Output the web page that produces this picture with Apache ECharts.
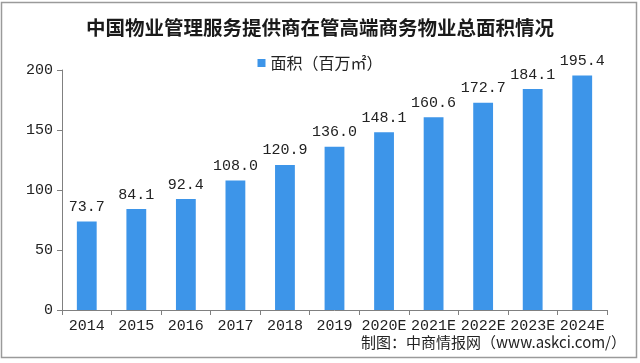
<!DOCTYPE html>
<html><head><meta charset="utf-8">
<script src="https://cdn.jsdelivr.net/npm/echarts@6/dist/echarts.min.js"></script>
<style>html,body{margin:0;padding:0;background:#fff}#c{width:640px;height:363px}</style>
</head><body><div id="c"></div>
<script>
var categories = ['2014','2015','2016','2017','2018','2019','2020E','2021E','2022E','2023E','2024E'];
var areaValues = [73.7, 84.1, 92.4, 108.0, 120.9, 136.0, 148.1, 160.6, 172.7, 184.1, 195.4];
var seriesName = '面积（百万㎡）';
var titleText = '中国物业管理服务提供商在管高端商务物业总面积情况';
var sourceText = '制图：中商情报网（www.askci.com/）';

var chart = echarts.init(document.getElementById('c'), null, {renderer:'canvas'});
var mono = '"Liberation Mono","DejaVu Sans Mono",monospace';
chart.setOption({
  backgroundColor:'#fff',
  animation:false,
  title:{text:titleText,left:'center',top:13,
    textStyle:{fontFamily:'"Noto Sans CJK SC"',fontSize:19.5,fontWeight:'bold',color:'#1a1a1a'}},
  legend:{data:[seriesName],top:50,left:'center',itemWidth:8,itemHeight:8,itemGap:4,
    icon:'rect',
    textStyle:{fontFamily:'"Noto Sans CJK SC"',fontSize:16,color:'#222'}},
  grid:{left:62,right:33,top:70,bottom:53},
  xAxis:{type:'category',data:categories,
    axisLine:{lineStyle:{color:'#808080'}},
    axisTick:{show:true,length:5,lineStyle:{color:'#808080'}},
    axisLabel:{fontFamily:mono,fontSize:15,color:'#222',margin:9,interval:0}},
  yAxis:{type:'value',min:0,max:200,interval:50,
    axisLine:{show:true,lineStyle:{color:'#808080'}},
    axisTick:{show:true,length:5,lineStyle:{color:'#808080'}},
    splitLine:{show:false},
    axisLabel:{fontFamily:mono,fontSize:15,color:'#222',margin:9}},
  series:[{name:seriesName,type:'bar',data:areaValues,barWidth:'40%',
    itemStyle:{color:'#3d95e9'},
    label:{show:true,position:'top',distance:7,fontFamily:mono,fontSize:15,color:'#222',
      formatter:function(p){return p.value.toFixed(1);}}}],
  graphic:[
    {type:'rect',shape:{x:1.5,y:2.5,width:635,height:355},style:{fill:'none',stroke:'#9a9a9a',lineWidth:1.5},silent:true},
    {type:'text',right:14,top:335,style:{text:sourceText,fontFamily:'"Noto Sans CJK SC"',fontSize:15,fill:'#222'}}
  ]
});
</script></body></html>
